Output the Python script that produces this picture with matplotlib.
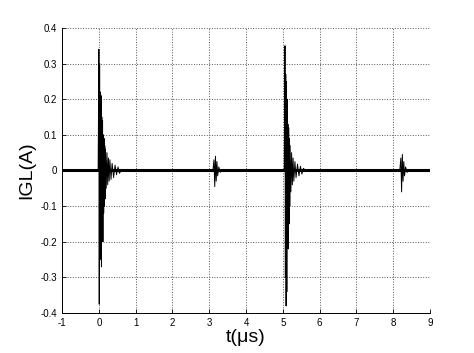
import numpy as np
import matplotlib
matplotlib.use('Agg')
import matplotlib.pyplot as plt

plt.rcParams['font.family'] = ['Liberation Sans', 'DejaVu Sans']

# burst at t=0 (us) -> current (A)
burst1_t = [-0.02, 0.00, 0.01, 0.02, 0.03, 0.04, 0.05, 0.06, 0.07, 0.08, 0.09, 0.10,
            0.11, 0.12, 0.13, 0.14, 0.15, 0.16, 0.17, 0.18, 0.20, 0.22, 0.24, 0.26,
            0.28, 0.30, 0.33, 0.36, 0.40, 0.44, 0.48, 0.52, 0.56, 0.60]
burst1_v = [0.0, 0.34, -0.375, 0.30, -0.25, 0.22, -0.20, 0.21, -0.27, 0.15, -0.18, 0.14,
            -0.20, 0.10, -0.12, 0.09, -0.10, 0.07, -0.08, 0.06, -0.05, 0.05, -0.04, 0.035,
            -0.03, 0.03, -0.025, 0.02, -0.02, 0.015, -0.012, 0.01, -0.008, 0.0]

# small burst near t=3.2
burst2_t = [3.10, 3.13, 3.15, 3.17, 3.19, 3.21, 3.23, 3.26, 3.30, 3.35]
burst2_v = [0.0, 0.03, -0.045, 0.04, -0.03, 0.025, -0.015, 0.01, -0.005, 0.0]

# burst at t=5.1
burst3_t = [5.04, 5.06, 5.07, 5.08, 5.09, 5.10, 5.11, 5.12, 5.13, 5.14, 5.15, 5.16,
            5.17, 5.18, 5.19, 5.20, 5.22, 5.24, 5.26, 5.28, 5.30, 5.33, 5.36, 5.40,
            5.44, 5.48, 5.52, 5.56, 5.62]
burst3_v = [0.0, 0.35, -0.30, 0.27, -0.38, 0.25, -0.34, 0.20, -0.20, 0.13, -0.22, 0.12,
            -0.15, 0.09, -0.10, 0.07, -0.06, 0.05, -0.04, 0.035, -0.03, 0.025, -0.02,
            0.018, -0.015, 0.012, -0.01, 0.006, 0.0]

# small burst near t=8.3
burst4_t = [8.18, 8.21, 8.23, 8.25, 8.27, 8.29, 8.31, 8.34, 8.38, 8.43]
burst4_v = [0.0, 0.035, -0.06, 0.045, -0.03, 0.025, -0.015, 0.01, -0.005, 0.0]

t_start, t_end = -1.0, 9.0

x_ticks = [-1, 0, 1, 2, 3, 4, 5, 6, 7, 8, 9]
y_ticks = [-0.4, -0.3, -0.2, -0.1, 0, 0.1, 0.2, 0.3, 0.4]

fig = plt.figure(figsize=(4.74, 3.53), dpi=100, facecolor='white')
ax = fig.add_axes([0.131, 0.113, 0.776, 0.808])

# noisy baseline drawn as a thick band around zero
ax.plot([t_start, t_end], [0, 0], color='black', lw=2.2, solid_capstyle='butt')

for bt, bv in [(burst1_t, burst1_v), (burst2_t, burst2_v),
               (burst3_t, burst3_v), (burst4_t, burst4_v)]:
    ax.plot(bt, bv, color='black', lw=0.7)

ax.set_xlim(t_start, t_end)
ax.set_ylim(-0.4, 0.4)
ax.set_xticks(x_ticks)
ax.set_yticks(y_ticks)
ax.set_xticklabels([str(v) for v in x_ticks])
ax.set_yticklabels(['-0.4', '-0.3', '-0.2', '-0.1', '0', '0.1', '0.2', '0.3', '0.4'])
ax.tick_params(direction='in', labelsize=7, length=3, width=0.6)
ax.grid(True, linestyle=':', color='#555555', linewidth=0.7)
ax.set_axisbelow(True)
for s in ['top', 'right']:
    ax.spines[s].set_visible(False)
for s in ['left', 'bottom']:
    ax.spines[s].set_linewidth(0.7)

ax.set_xlabel('t(μs)', fontsize=14, labelpad=1)
ax.set_ylabel('IGL(A)', fontsize=14, labelpad=4)

fig.savefig('out.png', dpi=100)
